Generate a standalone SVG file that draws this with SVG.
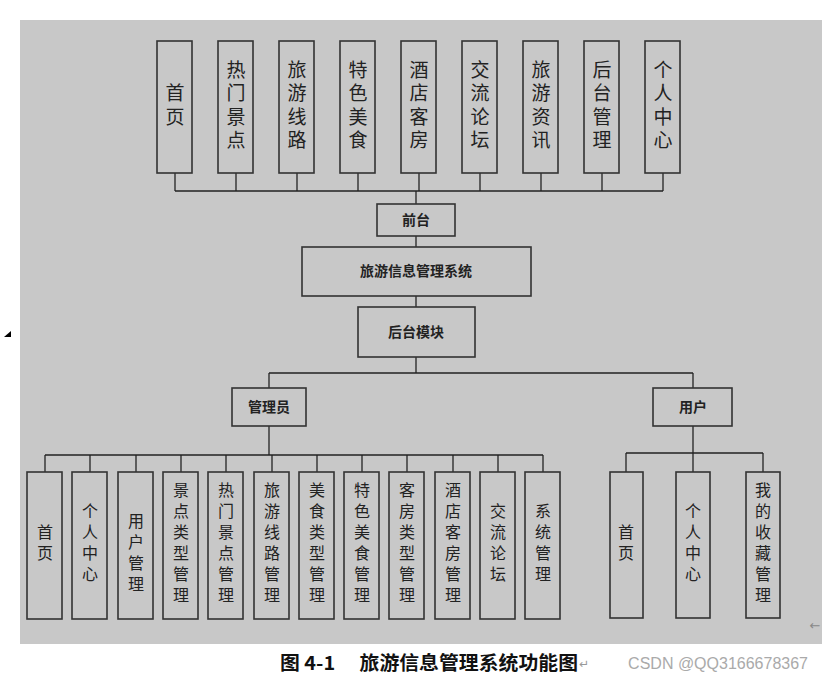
<svg xmlns="http://www.w3.org/2000/svg" width="822" height="681" viewBox="0 0 822 681">
<style>
.b{fill:#c8c8c8;stroke:#333;stroke-width:1.6}
.t{font-family:"Noto Sans CJK SC",sans-serif;fill:#222;text-anchor:middle}
.v{font-size:19px}
.s{font-size:16px}
.h{font-size:14px;font-weight:bold}
.c line{stroke:#222;stroke-width:1.3}
</style>
<rect x="0" y="0" width="822" height="681" fill="#fff"/>
<rect x="20" y="20" width="802" height="624" fill="#c8c8c8"/>
<polygon points="4,337 11,331 11,337" fill="#000"/>
<text x="815" y="630" font-family="DejaVu Sans,sans-serif" font-size="13" fill="#888" text-anchor="middle">←</text>
<g class="c">
<line x1="175" y1="173" x2="175" y2="191"/><line x1="236" y1="173" x2="236" y2="191"/><line x1="297" y1="173" x2="297" y2="191"/><line x1="358" y1="173" x2="358" y2="191"/><line x1="419" y1="173" x2="419" y2="191"/><line x1="480" y1="173" x2="480" y2="191"/><line x1="541" y1="173" x2="541" y2="191"/><line x1="602" y1="173" x2="602" y2="191"/><line x1="663" y1="173" x2="663" y2="191"/>
<line x1="175" y1="191" x2="663" y2="191"/>
<line x1="416" y1="191" x2="416" y2="204"/>
<line x1="416" y1="236" x2="416" y2="247"/>
<line x1="416" y1="296" x2="416" y2="307"/>
<line x1="416" y1="357" x2="416" y2="373"/>
<line x1="269" y1="373" x2="693" y2="373"/>
<line x1="269" y1="373" x2="269" y2="388"/>
<line x1="693" y1="373" x2="693" y2="388"/>
<line x1="269" y1="426" x2="269" y2="455"/>
<line x1="45" y1="455" x2="543" y2="455"/>
<line x1="45" y1="455" x2="45" y2="472"/><line x1="90" y1="455" x2="90" y2="472"/><line x1="136" y1="455" x2="136" y2="472"/><line x1="181" y1="455" x2="181" y2="472"/><line x1="226" y1="455" x2="226" y2="472"/><line x1="272" y1="455" x2="272" y2="472"/><line x1="317" y1="455" x2="317" y2="472"/><line x1="362" y1="455" x2="362" y2="472"/><line x1="407" y1="455" x2="407" y2="472"/><line x1="453" y1="455" x2="453" y2="472"/><line x1="498" y1="455" x2="498" y2="472"/><line x1="543" y1="455" x2="543" y2="472"/>
<line x1="693" y1="426" x2="693" y2="472"/>
<line x1="626" y1="453" x2="763" y2="453"/>
<line x1="626" y1="453" x2="626" y2="472"/><line x1="763" y1="453" x2="763" y2="472"/>
</g>
<g class="t v">
<g id="n1"><rect class="b" x="157" y="41" width="35" height="132"/><text x="175" y="100">首</text><text x="175" y="124">页</text></g>
<g id="n2"><rect class="b" x="218" y="41" width="35" height="132"/><text x="236" y="77">热</text><text x="236" y="100">门</text><text x="236" y="124">景</text><text x="236" y="147">点</text></g>
<g id="n3"><rect class="b" x="279" y="41" width="35" height="132"/><text x="297" y="77">旅</text><text x="297" y="100">游</text><text x="297" y="124">线</text><text x="297" y="147">路</text></g>
<g id="n4"><rect class="b" x="340" y="41" width="35" height="132"/><text x="358" y="77">特</text><text x="358" y="100">色</text><text x="358" y="124">美</text><text x="358" y="147">食</text></g>
<g id="n5"><rect class="b" x="401" y="41" width="35" height="132"/><text x="419" y="77">酒</text><text x="419" y="100">店</text><text x="419" y="124">客</text><text x="419" y="147">房</text></g>
<g id="n6"><rect class="b" x="462" y="41" width="35" height="132"/><text x="480" y="77">交</text><text x="480" y="100">流</text><text x="480" y="124">论</text><text x="480" y="147">坛</text></g>
<g id="n7"><rect class="b" x="523" y="41" width="35" height="132"/><text x="541" y="77">旅</text><text x="541" y="100">游</text><text x="541" y="124">资</text><text x="541" y="147">讯</text></g>
<g id="n8"><rect class="b" x="584" y="41" width="35" height="132"/><text x="602" y="77">后</text><text x="602" y="100">台</text><text x="602" y="124">管</text><text x="602" y="147">理</text></g>
<g id="n9"><rect class="b" x="645" y="41" width="35" height="132"/><text x="663" y="77">个</text><text x="663" y="100">人</text><text x="663" y="124">中</text><text x="663" y="147">心</text></g>
</g>
<g class="t h">
<g id="qt"><rect class="b" x="377" y="204" width="78" height="32"/><text x="416" y="225">前台</text></g>
<g id="sys"><rect class="b" x="302" y="247" width="229" height="49"/><text x="416" y="276">旅游信息管理系统</text></g>
<g id="ht"><rect class="b" x="358" y="307" width="117" height="50"/><text x="416" y="337">后台模块</text></g>
<g id="admin"><rect class="b" x="232" y="388" width="74" height="38"/><text x="269" y="412">管理员</text></g>
<g id="user"><rect class="b" x="653" y="388" width="79" height="38"/><text x="693" y="412">用户</text></g>
</g>
<g class="t s">
<g id="a1"><rect class="b" x="27" y="472" width="35" height="147"/><text x="45" y="538">首</text><text x="45" y="559">页</text></g>
<g id="a2"><rect class="b" x="72" y="472" width="35" height="147"/><text x="90" y="517">个</text><text x="90" y="538">人</text><text x="90" y="559">中</text><text x="90" y="580">心</text></g>
<g id="a3"><rect class="b" x="118" y="472" width="35" height="147"/><text x="136" y="527">用</text><text x="136" y="548">户</text><text x="136" y="569">管</text><text x="136" y="590">理</text></g>
<g id="a4"><rect class="b" x="163" y="472" width="35" height="147"/><text x="181" y="496">景</text><text x="181" y="517">点</text><text x="181" y="538">类</text><text x="181" y="559">型</text><text x="181" y="580">管</text><text x="181" y="601">理</text></g>
<g id="a5"><rect class="b" x="208" y="472" width="35" height="147"/><text x="226" y="496">热</text><text x="226" y="517">门</text><text x="226" y="538">景</text><text x="226" y="559">点</text><text x="226" y="580">管</text><text x="226" y="601">理</text></g>
<g id="a6"><rect class="b" x="254" y="472" width="35" height="147"/><text x="272" y="496">旅</text><text x="272" y="517">游</text><text x="272" y="538">线</text><text x="272" y="559">路</text><text x="272" y="580">管</text><text x="272" y="601">理</text></g>
<g id="a7"><rect class="b" x="299" y="472" width="35" height="147"/><text x="317" y="496">美</text><text x="317" y="517">食</text><text x="317" y="538">类</text><text x="317" y="559">型</text><text x="317" y="580">管</text><text x="317" y="601">理</text></g>
<g id="a8"><rect class="b" x="344" y="472" width="35" height="147"/><text x="362" y="496">特</text><text x="362" y="517">色</text><text x="362" y="538">美</text><text x="362" y="559">食</text><text x="362" y="580">管</text><text x="362" y="601">理</text></g>
<g id="a9"><rect class="b" x="389" y="472" width="35" height="147"/><text x="407" y="496">客</text><text x="407" y="517">房</text><text x="407" y="538">类</text><text x="407" y="559">型</text><text x="407" y="580">管</text><text x="407" y="601">理</text></g>
<g id="a10"><rect class="b" x="435" y="472" width="35" height="147"/><text x="453" y="496">酒</text><text x="453" y="517">店</text><text x="453" y="538">客</text><text x="453" y="559">房</text><text x="453" y="580">管</text><text x="453" y="601">理</text></g>
<g id="a11"><rect class="b" x="480" y="472" width="35" height="147"/><text x="498" y="517">交</text><text x="498" y="538">流</text><text x="498" y="559">论</text><text x="498" y="580">坛</text></g>
<g id="a12"><rect class="b" x="525" y="472" width="35" height="147"/><text x="543" y="517">系</text><text x="543" y="538">统</text><text x="543" y="559">管</text><text x="543" y="580">理</text></g>
<g id="u1"><rect class="b" x="610" y="472" width="33" height="146"/><text x="626" y="538">首</text><text x="626" y="559">页</text></g>
<g id="u2"><rect class="b" x="676" y="472" width="34" height="146"/><text x="693" y="517">个</text><text x="693" y="538">人</text><text x="693" y="559">中</text><text x="693" y="580">心</text></g>
<g id="u3"><rect class="b" x="746" y="472" width="34" height="146"/><text x="763" y="496">我</text><text x="763" y="517">的</text><text x="763" y="538">收</text><text x="763" y="559">藏</text><text x="763" y="580">管</text><text x="763" y="601">理</text></g>
</g>
<text x="280" y="670" font-family="Noto Sans CJK SC,sans-serif" font-size="19" font-weight="bold" fill="#111" textLength="298" lengthAdjust="spacingAndGlyphs">图 4-1　 旅游信息管理系统功能图</text>
<text x="579" y="668" font-family="DejaVu Sans,sans-serif" font-size="12" fill="#999">↵</text>
<text x="808" y="669" font-family="Liberation Sans,sans-serif" font-size="16" fill="#aaa" text-anchor="end">CSDN @QQ3166678367</text>
</svg>
